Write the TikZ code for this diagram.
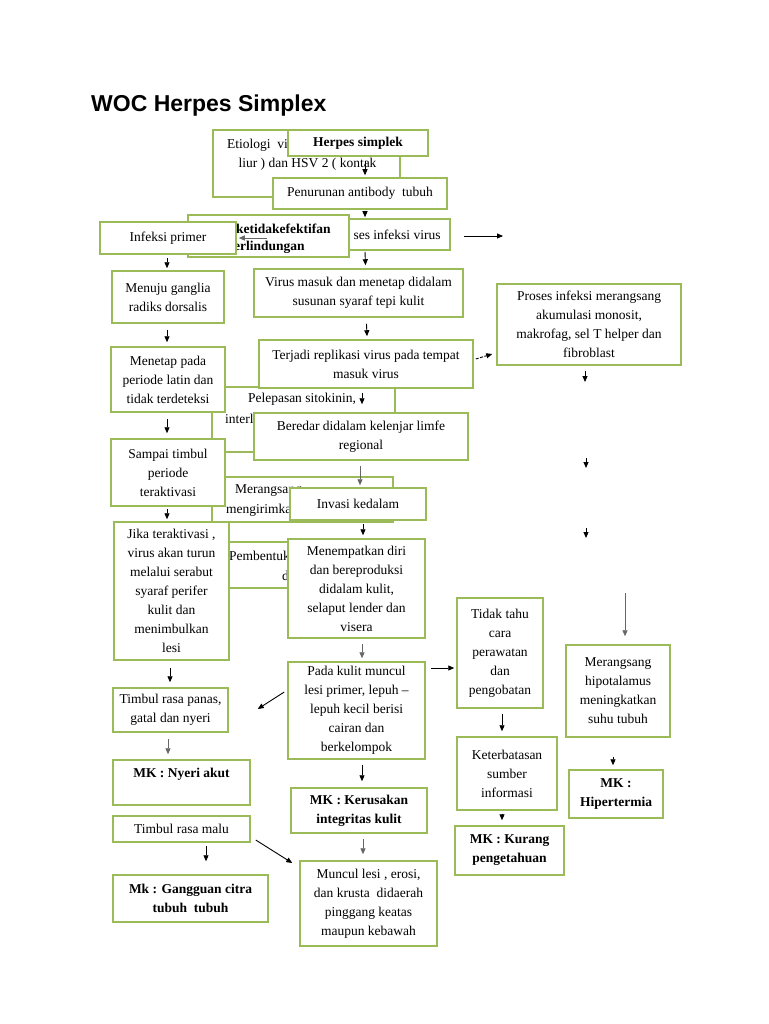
\documentclass[tikz,border=0pt]{standalone}
\usepackage{fontspec}
\setmainfont{Liberation Serif}
\newfontfamily\titlefont{Liberation Sans}
\usetikzlibrary{arrows.meta}
\definecolor{boxgreen}{RGB}{155,187,89}
\begin{document}
\begin{tikzpicture}[x=1pt,y=-1pt,
  box/.style={draw=boxgreen, line width=1.5pt, fill=white, inner sep=0pt, align=center, font=\fontsize{13.5}{19}\selectfont},
  bbox/.style={box, font=\fontsize{13.5}{19}\selectfont\bfseries},
  txt/.style={inner sep=0pt, font=\fontsize{13.5}{19}\selectfont},
  btxt/.style={inner sep=0pt, font=\fontsize{13.5}{19}\selectfont\bfseries},
  arr/.style={-{Triangle[length=6pt,width=5pt]}, line width=0.9pt, draw=black},
  garr/.style={arr, draw=black!60},
]
\useasboundingbox (0,0) rectangle (768,1024);
\fill[white] (0,0) rectangle (768,1024);

% title
\node[anchor=base west, inner sep=0pt, font=\titlefont\bfseries\fontsize{23}{27}\selectfont] (title) at (91,112) {WOC Herpes Simplex};

% etiologi (partly hidden)
\node[box, minimum width=187pt, minimum height=67pt] (etio) at (306.5,163.5) {};
\node[txt, anchor=west] (etio1) at (227,145) {Etiologi\ \ vi};
\node[txt] (etio2) at (307.5,164) {liur ) dan HSV 2 ( kontak};

\node[bbox, minimum width=140pt, minimum height=26pt] (herpes) at (358,143) {Herpes simplek};
\node[box, minimum width=174pt, minimum height=31pt] (penur) at (360,193.5) {Penurunan antibody\ \ tubuh};

% proses infeksi virus (partly hidden)
\node[box, minimum width=150pt, minimum height=31pt] (proses) at (375,234.5) {};
\node[txt] (prosestxt) at (397,235) {ses infeksi virus};

% ketidakefektifan (partly hidden)
\node[box, minimum width=161pt, minimum height=42pt] (ketid) at (268.5,236) {};
\node[btxt, anchor=west] (ketid1) at (236,229) {ketidakefektifan};
\node[btxt, anchor=west] (ketid2) at (234,247) {erlindungan};

\node[box, minimum width=136pt, minimum height=32pt] (infeksi) at (168,238) {Infeksi primer};

\node[box, minimum width=112pt, minimum height=52pt] (menuju) at (168,297) {Menuju ganglia\\radiks dorsalis};
\node[box, minimum width=209pt, minimum height=48pt] (virus) at (358.5,293) {Virus masuk dan menetap didalam\\susunan syaraf tepi kulit};
\node[box, minimum width=184pt, minimum height=81pt] (prosinf) at (589,324.5) {Proses infeksi merangsang\\akumulasi monosit,\\makrofag, sel T helper dan\\fibroblast};

% pelepasan (hidden box)
\node[box, minimum width=183pt, minimum height=65pt] (pelep) at (303.5,419.5) {};
\node[txt] (pelep1) at (302,399) {Pelepasan sitokinin,};
\node[txt, anchor=west] (pelep2) at (225,419) {interl};

\node[box, minimum width=214pt, minimum height=48pt] (terjadi) at (366,364) {Terjadi replikasi virus pada tempat\\masuk virus};
\node[box, minimum width=114pt, minimum height=65pt] (menetap) at (168,379.5) {Menetap pada\\periode latin dan\\tidak terdeteksi};
\node[box, minimum width=214pt, minimum height=47pt] (beredar) at (361,436.5) {Beredar didalam kelenjar limfe\\regional};

% merangsang (hidden box)
\node[box, minimum width=181pt, minimum height=45pt] (merang) at (302.5,499.5) {};
\node[txt, anchor=west] (merang1) at (235,491) {Merangsang};
\node[txt, anchor=west] (merang2) at (226,510) {mengirimkan};

\node[box, minimum width=114pt, minimum height=67pt] (sampai) at (168,472.5) {Sampai timbul\\periode\\teraktivasi};
\node[box, minimum width=136pt, minimum height=32pt] (invasi) at (358,504) {Invasi kedalam};

% pembentukan (hidden box)
\node[box, minimum width=181pt, minimum height=46pt] (pemb) at (302.5,565) {};
\node[txt, anchor=west] (pemb1) at (229,556) {Pembentuka};
\node[txt, anchor=west] (pemb2) at (282,576) {d};

\node[box, minimum width=115pt, minimum height=138pt] (jika) at (171.5,591) {Jika teraktivasi ,\\virus akan turun\\melalui serabut\\syaraf perifer\\kulit dan\\menimbulkan\\lesi};
\node[box, minimum width=137pt, minimum height=99pt] (menemp) at (356.5,588.5) {Menempatkan diri\\dan bereproduksi\\didalam kulit,\\selaput lender dan\\visera};
\node[box, minimum width=137pt, minimum height=97pt] (pada) at (356.5,710.5) {Pada kulit muncul\\lesi primer, lepuh --\\lepuh kecil berisi\\cairan dan\\berkelompok};
\node[box, minimum width=86pt, minimum height=110pt] (tidak) at (500,653) {Tidak tahu\\cara\\perawatan\\dan\\pengobatan};
\node[box, minimum width=104pt, minimum height=92pt] (hipo) at (618,691) {Merangsang\\hipotalamus\\meningkatkan\\suhu tubuh};
\node[box, minimum width=115pt, minimum height=44pt] (panas) at (170.5,710) {Timbul rasa panas,\\gatal dan nyeri};
\node[box, minimum width=137pt, minimum height=45pt] (nyeri) at (181.5,782.5) {};
\node[btxt] (nyeritxt) at (181.5,774) {MK : Nyeri akut};
\node[box, minimum width=100pt, minimum height=73pt] (keterb) at (507,773.5) {Keterbatasan\\sumber\\informasi};
\node[bbox, minimum width=94pt, minimum height=48pt] (hiper) at (616,794) {MK :\\Hipertermia};
\node[bbox, minimum width=136pt, minimum height=45pt] (kerus) at (359,810.5) {MK : Kerusakan\\integritas kulit};
\node[box, minimum width=137pt, minimum height=26pt] (malu) at (181.5,829) {Timbul rasa malu};
\node[bbox, minimum width=109pt, minimum height=49pt] (kurang) at (509.5,850.5) {MK : Kurang\\pengetahuan};
\node[bbox, minimum width=155pt, minimum height=47pt] (citra) at (190.5,898.5) {Mk : Gangguan citra\\tubuh\ \ tubuh};
\node[box, minimum width=137pt, minimum height=85pt] (muncul) at (368.5,903.5) {Muncul lesi , erosi,\\dan krusta\ \ didaerah\\pinggang keatas\\maupun kebawah};

% free ends
\coordinate (r1) at (503,236);
\coordinate (k1) at (267,238);
\coordinate (d1e) at (585,382);
\coordinate (d2s) at (586,458);
\coordinate (d2e) at (586,468);
\coordinate (d3s) at (586,528);
\coordinate (d3e) at (586,538);
\coordinate (d4s) at (625,593);

% connectors
\draw[arr] ([shift={(7,4)}]herpes.south) -- ([shift={(5,-2)}]penur.north);
\draw[arr] ([shift={(5,1)}]penur.south) -- ([shift={(-10,-1)}]proses.north);
\draw[arr] ([shift={(13,1.5)}]proses.east) -- (r1);
\draw[garr] (k1) -- ([xshift=2pt]infeksi.east);
\draw[arr] ([shift={(-10,1)}]proses.south) -- ([shift={(7,-3)}]virus.north);
\draw[arr] ([shift={(-1,3)}]infeksi.south) -- ([shift={(-1,-2)}]menuju.north);
\draw[arr] ([shift={(8,6)}]virus.south) -- ([shift={(1,-3)}]terjadi.north);
\draw[arr, dash pattern=on 3pt off 1.5pt] ([shift={(2,-5)}]terjadi.east) -- ([shift={(-4,29.5)}]prosinf.west);
\draw[arr] ([shift={(-1,6)}]menuju.south) -- ([shift={(-1,-4)}]menetap.north);
\draw[arr] ([shift={(-4,4)}]terjadi.south) -- ([shift={(1,-8)}]beredar.north);
\draw[arr] ([shift={(-4,5)}]prosinf.south) -- (d1e);
\draw[arr] (d2s) -- (d2e);
\draw[arr] (d3s) -- (d3e);
\draw[garr] (d4s) -- ([shift={(7,-8)}]hipo.north);
\draw[arr] ([shift={(-1,6)}]menetap.south) -- ([shift={(-1,-5)}]sampai.north);
\draw[garr] ([shift={(-1,5)}]beredar.south) -- ([shift={(2,-2)}]invasi.north);
\draw[arr] ([shift={(-1,2)}]sampai.south) -- ([shift={(-4.5,-2)}]jika.north);
\draw[arr] ([shift={(5,3)}]invasi.south) -- ([shift={(6.5,-3)}]menemp.north);
\draw[arr] ([shift={(-1.5,7)}]jika.south) -- ([shift={(-0.5,-5)}]panas.north);
\draw[garr] ([shift={(5.5,5)}]menemp.south) -- ([shift={(5.5,-3)}]pada.north);
\draw[arr] ([shift={(5,-42.5)}]pada.east) -- ([shift={(-2,15)}]tidak.west);
\draw[arr] ([shift={(-3,-18.5)}]pada.west) -- ([shift={(29,-1)}]panas.east);
\draw[arr] ([shift={(2,5)}]tidak.south) -- ([shift={(-5,-5)}]keterb.north);
\draw[arr] ([shift={(-5,19)}]hipo.south) -- ([shift={(-3,-4)}]hiper.north);
\draw[garr] ([shift={(-2.5,6)}]panas.south) -- ([shift={(-13.5,-5)}]nyeri.north);
\draw[arr] ([shift={(5.5,5)}]pada.south) -- ([shift={(3,-6)}]kerus.north);
\draw[arr] ([shift={(-5,3)}]keterb.south) -- ([shift={(-7.5,-5)}]kurang.north);
\draw[garr] ([shift={(4,5)}]kerus.south) -- ([shift={(-5.5,-6)}]muncul.north);
\draw[arr] ([shift={(24.5,3)}]malu.south) -- ([shift={(15.5,-13)}]citra.north);
\draw[arr] ([shift={(5,11)}]malu.east) -- ([shift={(-7,-40.5)}]muncul.west);
\end{tikzpicture}
\end{document}
